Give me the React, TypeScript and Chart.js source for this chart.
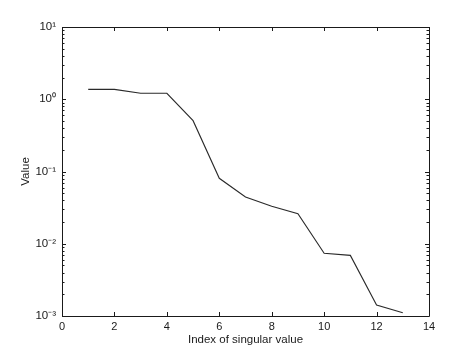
import React, { useEffect, useRef } from "react";
import { Chart, registerables } from "chart.js";

Chart.register(...registerables);

const indices = [1, 2, 3, 4, 5, 6, 7, 8, 9, 10, 11, 12, 13];
const singularValues = [1.37, 1.37, 1.21, 1.21, 0.505, 0.0805, 0.0444, 0.033, 0.026, 0.00737, 0.0069, 0.00142, 0.00111];
const xTicks = [0, 2, 4, 6, 8, 10, 12, 14];
const yExponents = [-3, -2, -1, 0, 1];
const xTitle = "Index of singular value";
const yTitle = "Value";

const SUP: Record<string, string> = {
  "-": "\u207B", "0": "\u2070", "1": "\u00B9", "2": "\u00B2", "3": "\u00B3",
  "4": "\u2074", "5": "\u2075", "6": "\u2076", "7": "\u2077", "8": "\u2078", "9": "\u2079",
};
const sup = (n: number) => String(n).split("").map((c) => SUP[c] || c).join("");

const FONT = "'Liberation Sans', Arial, Helvetica, sans-serif";
const INK = "#1a1a1a";

const framePlugin = {
  id: "matlabFrame",
  afterDraw(chart: any) {
    const { ctx, chartArea } = chart;
    const { left, right, top, bottom } = chartArea;
    const x = chart.scales.x;
    const y = chart.scales.y;
    ctx.save();
    ctx.strokeStyle = INK;
    ctx.lineWidth = 1;
    ctx.beginPath();
    ctx.rect(Math.round(left) + 0.5, Math.round(top) + 0.5, Math.round(right - left), Math.round(bottom - top));
    ctx.stroke();
    ctx.beginPath();
    for (const v of xTicks) {
      const px = Math.round(x.getPixelForValue(v)) + 0.5;
      ctx.moveTo(px, bottom);
      ctx.lineTo(px, bottom - 4);
      ctx.moveTo(px, top);
      ctx.lineTo(px, top + 4);
    }
    for (const e of yExponents) {
      const base = Math.pow(10, e);
      const py = Math.round(y.getPixelForValue(base)) + 0.5;
      ctx.moveTo(left, py);
      ctx.lineTo(left + 4, py);
      ctx.moveTo(right, py);
      ctx.lineTo(right - 4, py);
      if (e < yExponents[yExponents.length - 1]) {
        for (let k = 2; k <= 9; k++) {
          const pm = Math.round(y.getPixelForValue(k * base)) + 0.5;
          ctx.moveTo(left, pm);
          ctx.lineTo(left + 2.5, pm);
          ctx.moveTo(right, pm);
          ctx.lineTo(right - 2.5, pm);
        }
      }
    }
    ctx.stroke();
    ctx.restore();
  },
};

export default function App() {
  const ref = useRef<HTMLCanvasElement | null>(null);
  useEffect(() => {
    if (!ref.current) return;
    const chart = new Chart(ref.current, {
      type: "line",
      data: {
        datasets: [
          {
            data: indices.map((x, i) => ({ x, y: singularValues[i] })),
            borderColor: "#2a2a2a",
            borderWidth: 1.1,
            pointRadius: 0,
            fill: false,
            tension: 0,
          },
        ],
      },
      options: {
        animation: false,
        responsive: false,
        devicePixelRatio: 1,
        layout: { padding: { top: 27, right: 45, left: 0, bottom: 0 } },
        plugins: { legend: { display: false }, tooltip: { enabled: false } },
        scales: {
          x: {
            type: "linear",
            min: 0,
            max: 14,
            afterBuildTicks: (scale: any) => {
              scale.ticks = xTicks.map((v) => ({ value: v }));
            },
            afterFit: (scale: any) => {
              scale.height = 39;
            },
            grid: { display: false, drawTicks: false },
            border: { display: false },
            ticks: {
              padding: 4,
              maxRotation: 0,
              color: INK,
              font: { family: FONT, size: 11 },
              callback: (v: any) => String(v),
            },
            title: {
              display: true,
              text: xTitle,
              color: INK,
              font: { family: FONT, size: 11.5 },
              padding: { top: 0, bottom: 8 },
            },
          },
          y: {
            type: "logarithmic",
            min: 1e-3,
            max: 10,
            afterBuildTicks: (scale: any) => {
              scale.ticks = yExponents.map((e) => ({ value: Math.pow(10, e), major: true }));
            },
            afterFit: (scale: any) => {
              scale.width = 62;
            },
            grid: { display: false, drawTicks: false },
            border: { display: false },
            ticks: {
              padding: 6,
              color: INK,
              font: { family: FONT, size: 11.5 },
              callback: (v: any) => "10" + sup(Math.round(Math.log10(Number(v)))),
            },
            title: {
              display: true,
              text: yTitle,
              color: INK,
              font: { family: FONT, size: 11.5 },
              padding: { top: 19, bottom: 0 },
            },
          },
        },
      },
      plugins: [framePlugin],
    } as any);
    return () => chart.destroy();
  }, []);
  return (
    <div style={{ position: "absolute", left: 0, top: 0, width: 474, height: 355, background: "#fff" }}>
      <canvas ref={ref} width={474} height={355} />
    </div>
  );
}
